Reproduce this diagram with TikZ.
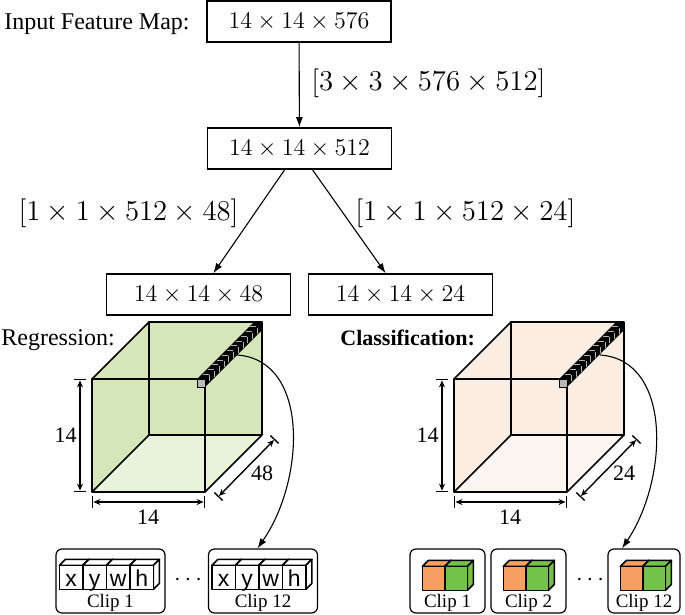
\documentclass[tikz,border=0pt]{standalone}
\usepackage[no-math]{fontspec}
\setmainfont{Liberation Serif}
\newfontfamily\lettfont{Liberation Sans}
\usetikzlibrary{positioning,arrows.meta,calc}
\definecolor{regfill}{HTML}{D5E7B8}
\definecolor{regfloor}{HTML}{E9F3DC}
\definecolor{clsfill}{HTML}{FCEDE3}
\definecolor{clsfloor}{HTML}{FDF5EF}
\definecolor{boxorange}{HTML}{F8A062}
\definecolor{boxgreen}{HTML}{74C24A}

\begin{document}
\begin{tikzpicture}[x=0.5pt,y=-0.5pt,
   shapebox/.style={draw,line width=0.8pt,minimum width=92pt,minimum height=20.5pt,inner sep=0pt,font=\fontsize{12}{14}\selectfont},
   convlbl/.style={font=\fontsize{14}{16}\selectfont,inner sep=0pt},
   txt/.style={font=\fontsize{12}{14}\selectfont,inner sep=0pt},
   dimlbl/.style={font=\fontsize{11}{13}\selectfont,inner sep=0pt},
   flow/.style={-{Latex[length=5pt,width=3.5pt]},line width=0.55pt},
   cubeline/.style={line width=0.75pt,line join=round},
   dimline/.style={>={Stealth[length=3.5pt,width=3pt]},|<->|,line width=0.7pt},
   clipbox/.style={draw,rounded corners=3pt,line width=0.6pt,minimum width=54.5pt,minimum height=32pt,inner sep=0pt},
   cliplbl/.style={font=\fontsize{9.5}{11}\selectfont,inner sep=0pt},
   lett/.style={font=\lettfont\fontsize{11.5}{13}\selectfont,inner sep=0pt},
   tiny/.style={line width=0.8pt,line join=round}]
  \useasboundingbox (0,0) rectangle (685,615);

  \node[txt,anchor=base east] (inlbl) at (190,30) {Input Feature Map:};
  \node[shapebox] (b1) at (299,21.5) {$14\times14\times576$};
  \node[shapebox] (b2) at (299.5,148.5) {$14\times14\times512$};
  \node[shapebox] (b3) at (198.5,294.5) {$14\times14\times48$};
  \node[shapebox] (b4) at (400.5,294.5) {$14\times14\times24$};
  \node[convlbl,anchor=west] (k1) at (311,83) {$[3\times3\times576\times512]$};
  \node[convlbl,anchor=east] (k2) at (239,213) {$[1\times1\times512\times48]$};
  \node[convlbl,anchor=west] (k3) at (355,213) {$[1\times1\times512\times24]$};
  \draw[flow] (b1) -- (b2);
  \draw[flow] ($(b2.south west)!0.42!(b2.south east)$) -- ($(b3.north west)!0.58!(b3.north east)$);
  \draw[flow] ($(b2.south west)!0.57!(b2.south east)$) -- ($(b4.north west)!0.42!(b4.north east)$);

  \node[txt,anchor=base west] (reglbl) at (1,345) {Regression:};
  \node[txt,anchor=base west,font=\fontsize{11}{13}\selectfont\bfseries] (clslbl) at (340,345) {Classification:};

  \foreach \cx/\main/\floor/\depth in {92/regfill/regfloor/48,454/clsfill/clsfloor/24}{
    \fill[\main] (\cx,379) -- (\cx+57,322) -- (\cx+170,322) -- (\cx+170,435) -- (\cx+113,492) -- (\cx,492) -- cycle;
    \fill[\floor] (\cx,492) -- (\cx+57,435) -- (\cx+170,435) -- (\cx+113,492) -- cycle;
    \draw[cubeline] (\cx+57,322) rectangle (\cx+170,435);
    \draw[cubeline] (\cx,379) -- (\cx+57,322) (\cx+113,379) -- (\cx+170,322)
                    (\cx,492) -- (\cx+57,435) (\cx+113,492) -- (\cx+170,435);
    \draw[cubeline] (\cx,379) rectangle (\cx+113,492);
    \fill (\cx+105,379) -- (\cx+162,322) -- (\cx+170,322) -- (\cx+170,330) -- (\cx+113,387) -- (\cx+105,387) -- cycle;
    \foreach \k in {1,...,11}
      \draw[gray!60,line width=0.4pt] (\cx+106+\k*4.75,379-\k*4.75) -- ++(6,0)
                                      (\cx+113+\k*4.75,380-\k*4.75) -- ++(0,6);
    \draw[fill=gray!55,line width=0.4pt] (\cx+105,379) rectangle ++(8,8);
    \draw[dimline] (\cx-12,379) -- (\cx-12,492);
    \draw[dimline] (\cx,502) -- (\cx+113,502);
    \draw[dimline] (\cx+126,497) -- (\cx+183,439);
    \node[dimlbl,anchor=east] (v\depth) at (\cx-15,435) {14};
    \node[dimlbl] (h\depth) at (\cx+56,517) {14};
    \node[dimlbl] (d\depth) at (\cx+170,473) {\depth};
  }

  \node[clipbox] (lc1) at (110.5,581) {};
  \node[clipbox] (lc12) at (263,581) {};
  \node[clipbox,minimum width=37.5pt] (rc1) at (447.5,581) {};
  \node[clipbox,minimum width=37.5pt] (rc2) at (528.5,581) {};
  \node[clipbox,minimum width=36pt] (rc12) at (644,581) {};
  \node[txt] (ldots) at (188,580) {$\cdots$};
  \node[txt] (rdots) at (590,580) {$\cdots$};

  \foreach \c/\t in {lc1/Clip 1,lc12/Clip 12,rc1/Clip 1,rc2/Clip 2,rc12/Clip 12}
    \node[cliplbl] (\c-lbl) at ($(\c.south)+(0,-11)$) {\t};

  \foreach \c in {lc1,lc12}
    \foreach \l [count=\i from 0] in {x,y,w,h}{
      \draw[tiny,fill=white] ($(\c.north west)+(4+23.5*\i,17)$) coordinate (p) -- ++(6,-6) -- ++(23.5,0) -- ++(-6,6) -- cycle;
      \draw[tiny,fill=white] ($(p)+(23.5,0)$) -- ++(6,-6) -- ++(0,24) -- ++(-6,6) -- cycle;
      \draw[tiny,fill=white] (p) rectangle ++(23.5,24);
      \node[lett,anchor=base] (\c-\l) at ($(p)+(11.75,21)$) {\l};
    }

  \foreach \c in {rc1,rc2,rc12}
    \foreach \col [count=\i from 0] in {boxorange,boxgreen}{
      \draw[tiny,fill=\col] ($(\c.north west)+(13+22.5*\i,18)$) coordinate (p) -- ++(6,-6) -- ++(22.5,0) -- ++(-6,6) -- cycle;
      \draw[tiny,fill=\col] ($(p)+(22.5,0)$) -- ++(6,-6) -- ++(0,24) -- ++(-6,6) -- cycle;
      \draw[tiny,fill=\col] (p) rectangle ++(22.5,24);
    }

  \coordinate (lsrc) at (237,355);
  \coordinate (rsrc) at (600,355);
  \draw[flow] (lsrc) .. controls (310,360) and (305,480) .. ($(lc12.north west)!0.45!(lc12.north east)$);
  \draw[flow] (rsrc) .. controls (673,360) and (668,480) .. ($(rc12.north west)!0.2!(rc12.north east)$);
\end{tikzpicture}
\end{document}
